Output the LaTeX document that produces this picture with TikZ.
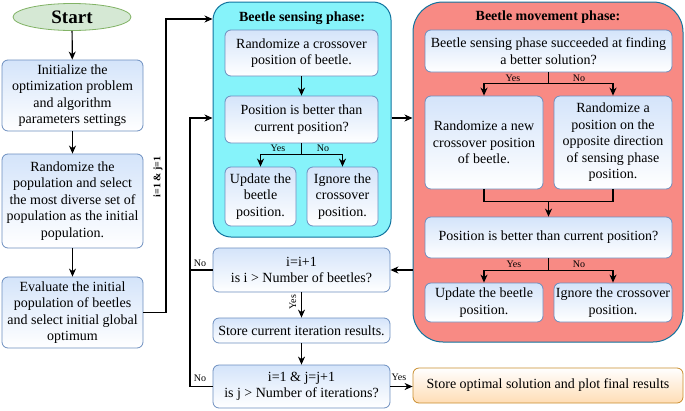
\documentclass[tikz,border=0pt]{standalone}
\usepackage{fontspec}
\setmainfont{Liberation Serif}
\usetikzlibrary{arrows.meta,shapes.geometric}
\definecolor{bstroke}{HTML}{6C8EBF}
\definecolor{bfill}{HTML}{D4E4FA}
\definecolor{cyanfill}{HTML}{86F3FA}
\definecolor{salmonfill}{HTML}{F88A84}
\definecolor{contstroke}{HTML}{10739E}
\definecolor{ostroke}{HTML}{C98E2E}
\definecolor{ofill}{HTML}{FFDDB5}
\definecolor{gfill}{HTML}{D5E8D4}
\definecolor{gstroke}{HTML}{82B366}
\tikzset{
  txt/.style={font=\fontsize{14}{16.5}\selectfont},
  bx/.style={txt,draw=bstroke,line width=0.8pt,rounded corners=6pt,top color=bfill,bottom color=white,align=center,inner sep=0pt},
  cont/.style={draw=contstroke,line width=1pt,inner sep=0pt},
  arr/.style={line width=1.2pt,-{Stealth[length=8pt,width=7pt,inset=2.5pt]}},
  ln/.style={line width=1.2pt},
  lbl/.style={font=\fontsize{10}{12}\selectfont,inner sep=0pt},
  ttl/.style={font=\fontsize{14}{16}\selectfont\bfseries,inner sep=0pt}
}
\begin{document}
\begin{tikzpicture}[x=1pt,y=-1pt]
\useasboundingbox (0,0) rectangle (685,410);
% containers
\node[cont,fill=cyanfill,rounded corners=18pt,minimum width=178pt,minimum height=235pt] (sens) at (302,119.5) {};
\node[cont,fill=salmonfill,rounded corners=30pt,minimum width=270pt,minimum height=340pt] (mov) at (548,172) {};
\node[ttl] (senst) at (302,18) {Beetle sensing phase:};
\node[ttl] (movt) at (548,17) {Beetle movement phase:};
% left column
\node[ellipse,draw=gstroke,line width=0.8pt,fill=gfill,minimum width=118pt,minimum height=27pt,inner sep=0pt,font=\fontsize{19}{21}\selectfont\bfseries] (start) at (72,17) {Start};
\node[bx,minimum width=141pt,minimum height=71pt] (init) at (72.5,95.5) {Initialize the\\optimization problem\\and algorithm\\parameters settings};
\node[bx,minimum width=141pt,minimum height=94pt] (rand) at (72.5,201) {Randomize the\\population and select\\the most diverse set of\\population as the initial\\population.};
\node[bx,minimum width=141pt,minimum height=71pt] (eval) at (72.5,312.5) {Evaluate the initial\\population of beetles\\and select initial global\\optimum};
% sensing phase boxes
\node[bx,minimum width=153pt,minimum height=46pt] (s1) at (301.5,53) {Randomize a crossover\\position of beetle.};
\node[bx,minimum width=153pt,minimum height=47pt] (s2) at (301.5,119.5) {Position is better than\\current position?};
\node[bx,minimum width=71pt,minimum height=59pt] (s3) at (260.5,196.5) {Update the\\beetle\\position.};
\node[bx,minimum width=71pt,minimum height=59pt] (s4) at (342.5,196.5) {Ignore the\\crossover\\position.};
% movement phase boxes
\node[bx,minimum width=247pt,minimum height=42pt] (m1) at (548.5,51) {Beetle sensing phase succeeded at finding\\a better solution?};
\node[bx,minimum width=118pt,minimum height=93pt] (m2) at (484,142.5) {Randomize a new\\crossover position\\of beetle.};
\node[bx,minimum width=118pt,minimum height=93pt] (m3) at (613,142.5) {Randomize a\\position on the\\opposite direction\\of sensing phase\\position.};
\node[bx,minimum width=247pt,minimum height=41pt] (m4) at (548.5,237.5) {Position is better than current position?};
\node[bx,minimum width=118pt,minimum height=39pt] (m5) at (484,302.5) {Update the beetle\\position.};
\node[bx,minimum width=118pt,minimum height=39pt] (m6) at (613,302.5) {Ignore the crossover\\position.};
% bottom column
\node[bx,minimum width=177pt,minimum height=44pt] (c1) at (301.5,270) {i=i+1\\is i {>} Number of beetles?};
\node[bx,minimum width=177pt,minimum height=25pt] (c2) at (301.5,330.5) {Store current iteration results.};
\node[bx,minimum width=177pt,minimum height=43pt] (c3) at (301.5,386.5) {i=1 \& j=j+1\\is j {>} Number of iterations?};
\node[bx,draw=ostroke,top color=white,bottom color=ofill,minimum width=270pt,minimum height=35pt] (fin) at (548,385.5) {Store optimal solution and plot final results};
% coordinates
\coordinate (k1) at (166,19);
\coordinate (k2) at (190,118);
\coordinate (mj) at (548.5,201);
% connectors left column
\draw[arr] (start) -- (init);
\draw[arr] (init) -- (rand);
\draw[arr] (rand) -- (eval);
\draw[arr] (eval.east) -| (k1) -- (sens.west |- k1);
\node[lbl,font=\fontsize{10}{12}\selectfont\bfseries,rotate=90] (ij) at (158,177) {i=1 \& j=1};
% sensing phase
\draw[arr] (s1) -- (s2);
\draw[arr] (s2.south) -- ++(0,11) -| (s3.north);
\draw[arr] (s2.south) -- ++(0,11) -| (s4.north);
\node[lbl] (sy) at (278,148) {Yes};
\node[lbl] (sn) at (323,148) {No};
\draw[arr] (sens.east |- k2) -- (mov.west |- k2);
% movement phase
\draw[arr] (m1.south) -- ++(0,11) -| (m2.north);
\draw[arr] (m1.south) -- ++(0,11) -| (m3.north);
\node[lbl] (my) at (513,78) {Yes};
\node[lbl] (mn) at (579,78) {No};
\draw[ln] (m2.south) -- ++(0,12) -| (m3.south);
\draw[arr] (mj) -- (m4.north);
\draw[arr] (m4.south) -- ++(0,12) -| (m5.north);
\draw[arr] (m4.south) -- ++(0,12) -| (m6.north);
\node[lbl] (my2) at (514,264) {Yes};
\node[lbl] (mn2) at (579,264) {No};
% bottom
\draw[arr] (mov.west |- c1) -- (c1.east);
\draw[arr] (c1) -- (c2);
\node[lbl,rotate=90] (cy) at (293,302) {Yes};
\draw[arr] (c2) -- (c3);
\draw[arr] (c3.east) -- (fin.west |- c3.east);
\node[lbl] (fy) at (399,377) {Yes};
\draw[arr] (c1.west) -| (k2) -- (sens.west |- k2);
\draw[ln] (c3.west) -| (c1.west -| k2);
\node[lbl] (n1) at (200,263) {No};
\node[lbl] (n2) at (200,378) {No};
\end{tikzpicture}
\end{document}
